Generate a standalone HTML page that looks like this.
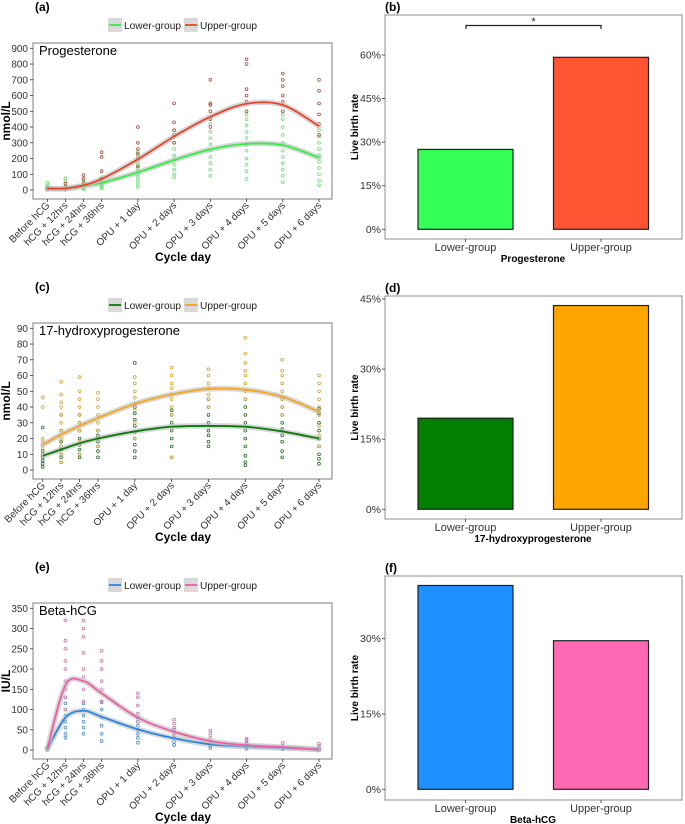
<!DOCTYPE html>
<html><head><meta charset="utf-8">
<style>
html,body{margin:0;padding:0;background:#fff;}
svg{display:block;font-family:"Liberation Sans",sans-serif;}
</style></head>
<body>
<svg id="fig" width="685" height="824" viewBox="0 0 685 824" xmlns="http://www.w3.org/2000/svg"></svg>
<script>
// ---- shared data ----
const timeLabels = ["Before hCG","hCG + 12hrs","hCG + 24hrs","hCG + 36hrs","OPU + 1 day","OPU + 2 days","OPU + 3 days","OPU + 4 days","OPU + 5 days","OPU + 6 days"];
const timeHours = [0,12,24,36,60,84,108,132,156,180];

// Progesterone
const progLowerFit = [8,8,25,45,112,190,258,293,285,205];
const progUpperFit = [10,10,30,70,195,340,465,548,540,405];
const progLowerPts = [[0,5,10,20,30,45],[0,5,10,20,40,60,75],[5,10,20,30,40,50,60],[10,20,30,40,50,60,80],[20,40,60,80,100,120,140,160,180,200,220,240],[80,100,130,160,190,220,260,300,340,380],[90,130,170,210,250,290,330,370,420,460],[70,120,160,200,250,290,330,370,410,450,480],[50,90,130,170,210,250,300,350,400,450,480],[30,60,100,140,180,220,260,300,340,380]];
const progUpperPts = [[5,10],[20,40],[40,70,95],[70,120,210,240],[150,200,230,260,300,400],[300,350,380,430,550],[400,450,500,540,550,700],[500,560,600,640,800,830],[500,560,600,660,700,740],[350,420,480,550,630,700]];
const progTicks = [0,100,200,300,400,500,600,700,800,900];

// 17-OHP
const ohpLowerFit = [9,13,17,20,24.5,27.5,28,27.5,24.5,20];
const ohpUpperFit = [16,22.5,28,33,42,48,51.5,51,46.5,37];
const ohpLowerPts = [[2,4,6,8,10,12,27],[5,8,10,13,15,18,25,35],[8,10,13,16,20,25,30,35],[8,12,15,18,20,22,25],[8,12,16,20,24,28,32,36,40,68],[8,15,20,25,30,35,38],[15,18,22,25,30,35,40,45],[3,5,9,15,20,25,30,35,40,45],[8,12,18,22,26,30,35,40],[4,7,10,15,20,25,30,36,39]];
const ohpUpperPts = [[10,14,18,20,40,46],[5,10,15,20,25,30,35,40,43,48,56],[10,18,25,30,35,40,45,50,59],[15,20,25,30,35,40,45,49],[20,30,38,42,46,50,55,59],[8,35,40,45,48,52,55,60,65],[40,45,48,52,55,60,64],[45,50,55,60,63,68,74,84],[35,40,45,50,55,60,63,70],[15,22,28,35,40,45,50,55,60]];
const ohpTicks = [0,10,20,30,40,50,60,70,80,90];

// Beta-hCG
const hcgLowerFit = [2,80,97,82,51,29,14,8,5,2];
const hcgUpperFit = [3,160,170,140,80,45,22,12,7,1];
const hcgLowerPts = [[0,2,5],[30,40,55,70,85,100,115,130],[40,55,70,85,100,115],[22,40,60,80,100,118],[18,30,40,50,60,70,80],[12,20,30,40,50],[5,10,15,20],[3,6,10,15],[2,4,8],[0,2,4]];
const hcgUpperPts = [[3],[100,130,150,170,200,220,250,270,320],[120,150,180,200,240,280,300,320],[120,150,170,200,220,245],[70,90,110,130,140],[40,55,65,75],[20,30,40,48],[10,18,25,28],[5,10,18],[5,10,15]];
const hcgTicks = [0,50,100,150,200,250,300,350];

// Bar charts
const barCategories = ["Lower-group","Upper-group"];
const birthProg = [27.5,59.2];
const birthOhp = [19.5,43.6];
const birthHcg = [40.6,29.6];

const NS = "http://www.w3.org/2000/svg";
const svg = document.getElementById("fig");
function el(tag, attrs, parent, text){
  const e = document.createElementNS(NS, tag);
  for (const k in attrs) e.setAttribute(k, attrs[k]);
  if (text !== undefined) e.textContent = text;
  (parent||svg).appendChild(e);
  return e;
}
function crPath(pts){
  let d = "M"+pts[0][0].toFixed(2)+","+pts[0][1].toFixed(2);
  for (let i=0;i<pts.length-1;i++){
    const p0=pts[Math.max(0,i-1)], p1=pts[i], p2=pts[i+1], p3=pts[Math.min(pts.length-1,i+2)];
    const c1x=p1[0]+(p2[0]-p0[0])/6, c1y=p1[1]+(p2[1]-p0[1])/6;
    const c2x=p2[0]-(p3[0]-p1[0])/6, c2y=p2[1]-(p3[1]-p1[1])/6;
    d+=" C"+c1x.toFixed(2)+","+c1y.toFixed(2)+" "+c2x.toFixed(2)+","+c2y.toFixed(2)+" "+p2[0].toFixed(2)+","+p2[1].toFixed(2);
  }
  return d;
}

function linePanel(cfg){
  const g = el("g",{});
  
  
  const xs = h => cfg.x0 + (cfg.x180-cfg.x0)*h/180;
  const ys = v => cfg.y0 - (cfg.y0-cfg.yMaxPx)*v/cfg.yMax;
  const lab = el("text",{x:35,y:cfg.top-32,"font-size":12,"font-weight":"bold",fill:"#000"},g,cfg.letter);
  
  
  const ly = cfg.top-18;
  const lg = el("g",{},g);
  
  
  [[cfg.lowColor,"Lower-group",108],[cfg.upColor,"Upper-group",184]].forEach(([c,t,x])=>{
    const item = el("g",{},lg);
    
    
    el("rect",{x:x,y:ly-7,width:14,height:14,fill:"#d9d9d9"},item);
    el("line",{x1:x+1,y1:ly,x2:x+13,y2:ly,stroke:c,"stroke-width":1.8},item);
    el("text",{x:x+16,y:ly+4,"font-size":10.5,fill:"#222",textLength:57,lengthAdjust:"spacingAndGlyphs"},item,t);
  });
  const box = el("rect",{x:33,y:cfg.top,width:299,height:cfg.bottom-cfg.top,fill:"#fff",stroke:"#7f7f7f","stroke-width":1},g);
  
  
  const tt = el("text",{x:39,y:cfg.top+12,"font-size":13,fill:"#000"},g,cfg.title);
  
  
  const ya = el("g",{},g);
  
  
  cfg.ticks.forEach(v=>{
    const y = ys(v);
    el("line",{x1:30,y1:y,x2:33,y2:y,stroke:"#333","stroke-width":0.8},ya);
    el("text",{x:28,y:y+3.5,"font-size":10,"text-anchor":"end",fill:"#333"},ya,v);
  });
  const yt = el("text",{transform:"translate(10,"+((cfg.top+cfg.bottom)/2)+") rotate(-90)","font-size":12,"font-weight":"bold","text-anchor":"middle",fill:"#000"},g,cfg.yTitle);
  
  
  const xa = el("g",{},g);
  
  
  timeHours.forEach((h,i)=>{
    const x = xs(h);
    el("line",{x1:x,y1:cfg.bottom,x2:x,y2:cfg.bottom+3,stroke:"#333","stroke-width":0.8},xa);
    el("text",{transform:"translate("+(x+3)+","+(cfg.bottom+7)+") rotate(-45)","font-size":10,"text-anchor":"end",fill:"#333"},xa,timeLabels[i]);
  });
  const xt = el("text",{x:183,y:cfg.bottom+62,"font-size":12,"font-weight":"bold","text-anchor":"middle",fill:"#000"},g,"Cycle day");
  
  
  [[cfg.lowPts,cfg.lowPtColor,"lower-points"],[cfg.upPts,cfg.upPtColor,"upper-points"]].forEach(([arr,c,n])=>{
    const pg = el("g",{},g);
    
    
    arr.forEach((vals,i)=>vals.forEach(v=>{
      const p = el("circle",{cx:xs(timeHours[i]),cy:ys(v),r:1.4,fill:"none",stroke:c,"stroke-width":0.8},pg);
      
      
    }));
  });
  [[cfg.lowFit,cfg.lowColor,"lower-fit-line"],[cfg.upFit,cfg.upColor,"upper-fit-line"]].forEach(([arr,c,n])=>{
    const d = crPath(arr.map((v,i)=>[xs(timeHours[i]),ys(v)]));
    const band = el("path",{d:d,fill:"none",stroke:"#bdbdbd","stroke-opacity":0.6,"stroke-width":5.5,"stroke-linecap":"round"},g);
    
    
    const ln = el("path",{d:d,fill:"none",stroke:c,"stroke-width":1.8},g);
    
    
  });
}

function barPanel(cfg){
  const g = el("g",{});
  
  
  const ys = v => cfg.y0 - v*cfg.pxPer;
  const lab = el("text",{x:385,y:cfg.top-4,"font-size":12,"font-weight":"bold",fill:"#000"},g,cfg.letter);
  
  
  const box = el("rect",{x:385,y:cfg.top,width:297,height:cfg.bottom-cfg.top,fill:"#fff",stroke:"#8c8c8c","stroke-width":1},g);
  
  
  const ya = el("g",{},g);
  
  
  cfg.ticks.forEach(v=>{
    const y = ys(v);
    el("line",{x1:382,y1:y,x2:385,y2:y,stroke:"#333","stroke-width":0.8},ya);
    el("text",{x:381,y:y+3.5,"font-size":10.5,"text-anchor":"end",fill:"#333"},ya,v+"%");
  });
  const yt = el("text",{transform:"translate(358,"+((cfg.top+cfg.bottom)/2)+") rotate(-90)","font-size":10,"font-weight":"bold","text-anchor":"middle",fill:"#000"},g,"Live birth rate");
  
  
  const centers = [465.5,601];
  cfg.values.forEach((v,i)=>{
    const y = ys(v);
    const b = el("rect",{x:centers[i]-47.5,y:y,width:95,height:cfg.y0-y,fill:cfg.colors[i],stroke:"#222","stroke-width":1.2},g);
    
    
    el("line",{x1:centers[i],y1:cfg.bottom,x2:centers[i],y2:cfg.bottom+3,stroke:"#333","stroke-width":0.8},g);
    const t = el("text",{x:centers[i],y:cfg.bottom+12,"font-size":11,"text-anchor":"middle",fill:"#333"},g,barCategories[i]);
    
    
  });
  const xt = el("text",{x:533,y:cfg.bottom+23,"font-size":10,"font-weight":"bold","text-anchor":"middle",fill:"#000"},g,cfg.xTitle);
  
  
  if (cfg.sig){
    const s = el("g",{},g);
    
    
    el("path",{d:"M466,29 V25.5 H601 V29",fill:"none",stroke:"#222","stroke-width":1.2},s);
    el("text",{x:533.5,y:25,"font-size":11,"text-anchor":"middle",fill:"#222"},s,"*");
  }
}

linePanel({name:"progesterone-line-chart",letter:"(a)",title:"Progesterone",yTitle:"nmol/L",top:43,bottom:199,x0:47.3,x180:319,y0:190,yMaxPx:48.3,yMax:900,ticks:progTicks,
  lowFit:progLowerFit,upFit:progUpperFit,lowPts:progLowerPts,upPts:progUpperPts,lowColor:"#33ee44",upColor:"#e8452a",lowPtColor:"#6fe07a",upPtColor:"#b0503c"});
linePanel({name:"17ohp-line-chart",letter:"(c)",title:"17-hydroxyprogesterone",yTitle:"nmol/L",top:323,bottom:479,x0:42.7,x180:319,y0:470,yMaxPx:328.3,yMax:90,ticks:ohpTicks,
  lowFit:ohpLowerFit,upFit:ohpUpperFit,lowPts:ohpLowerPts,upPts:ohpUpperPts,lowColor:"#0b7a0b",upColor:"#f5a51c",lowPtColor:"#2a6e2a",upPtColor:"#d6a43a"});
linePanel({name:"beta-hcg-line-chart",letter:"(e)",title:"Beta-hCG",yTitle:"IU/L",top:603,bottom:759,x0:47.3,x180:319,y0:750,yMaxPx:608.3,yMax:350,ticks:hcgTicks,
  lowFit:hcgLowerFit,upFit:hcgUpperFit,lowPts:hcgLowerPts,upPts:hcgUpperPts,lowColor:"#2a86e0",upColor:"#ec5fa6",lowPtColor:"#4a90c8",upPtColor:"#c878a8"});

barPanel({name:"progesterone-bar-chart",letter:"(b)",top:15,bottom:239,y0:229.3,pxPer:174.3/60,ticks:[0,15,30,45,60],values:birthProg,colors:["#33ff55","#ff5533"],xTitle:"Progesterone",sig:true});
barPanel({name:"17ohp-bar-chart",letter:"(d)",top:296,bottom:519,y0:509.3,pxPer:210.3/45,ticks:[0,15,30,45],values:birthOhp,colors:["#007f00","#ffa500"],xTitle:"17-hydroxyprogesterone"});
barPanel({name:"beta-hcg-bar-chart",letter:"(f)",top:576,bottom:800,y0:789.3,pxPer:150.6/30,ticks:[0,15,30],values:birthHcg,colors:["#1e90ff","#ff69b4"],xTitle:"Beta-hCG"});
</script>
</body></html>
